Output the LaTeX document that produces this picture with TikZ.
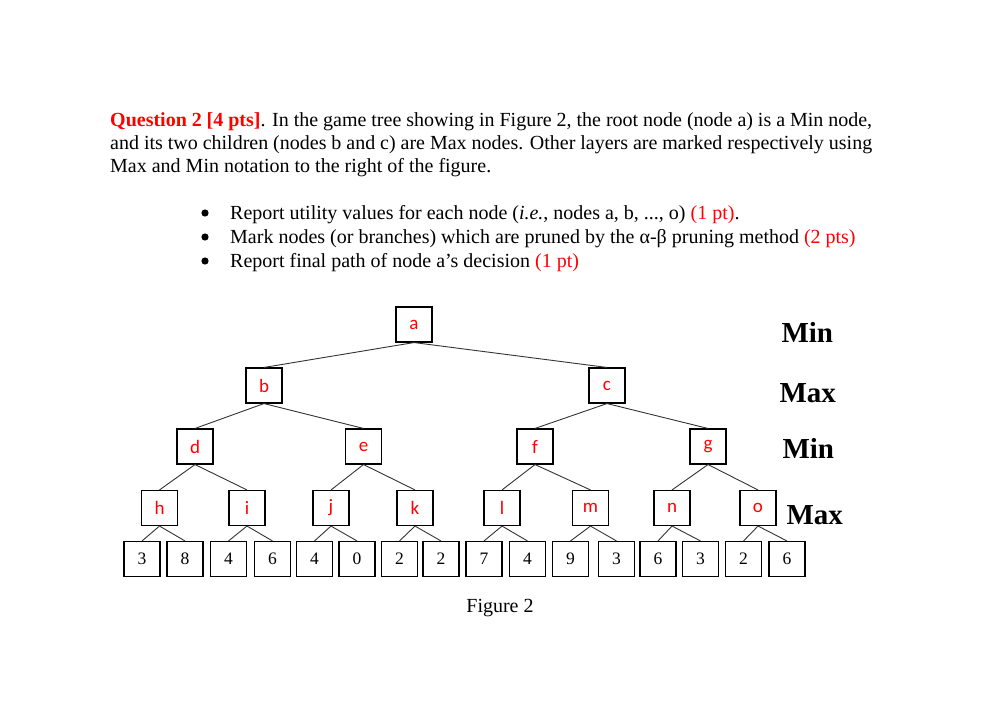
\documentclass[tikz,border=0pt]{standalone}
\usepackage{fontspec}
\setmainfont{Liberation Serif}
\newfontfamily\lblfont{Carlito}
\begin{document}
\begin{tikzpicture}[x=1pt,y=-1pt,
  box/.style={draw,line width=1.1pt,minimum width=36pt,minimum height=35pt,inner sep=0pt},
  inner/.style={box,font=\lblfont\fontsize{19}{19}\selectfont,text=red},
  leaf/.style={box,font=\fontsize{17.5}{17.5}\selectfont},
  lvl/.style={font=\bfseries\fontsize{29}{29}\selectfont,anchor=west},
  edge/.style={line width=0.9pt,black!80}]
\useasboundingbox (0,0) rectangle (1002,701);
\begin{scope}[font=\fontsize{20}{22.5}\selectfont]
\node[anchor=base west,inner sep=0pt] (t1) at (110,126) {\makebox[762pt][s]{\textcolor{red}{\textbf{Question 2 [4 pts]}}. In the game tree showing in Figure 2, the root node (node a) is a Min node,}};
\node[anchor=base west,inner sep=0pt] (t2) at (110,149) {\makebox[762pt][s]{and its two children (nodes b and c) are Max nodes. Other layers are marked respectively using}};
\node[anchor=base west,inner sep=0pt] (t3) at (110,172) {Max and Min notation to the right of the figure.};
\node[anchor=base west,inner sep=0pt] (b1) at (230,219) {Report utility values for each node (\textit{i.e.}, nodes a, b, ..., o) \textcolor{red}{(1 pt)}.};
\node[anchor=base west,inner sep=0pt] (b2) at (230,243) {Mark nodes (or branches) which are pruned by the α-β pruning method \textcolor{red}{(2 pts)}};
\node[anchor=base west,inner sep=0pt] (b3) at (230,267) {Report final path of node a’s decision \textcolor{red}{(1 pt)}};
\foreach \yy/\n in {213/d1,237/d2,261/d3} \fill (205,\yy) circle (3.6pt);
\node[anchor=base,inner sep=0pt] (fig) at (500,612) {Figure 2};
\end{scope}
\node[inner] (a) at (414,324.5) {a};
\node[inner] (b) at (264,385.5) {b};
\node[inner] (c) at (607,385.5) {c};
\node[inner] (d) at (195,446.5) {d};
\node[inner] (e) at (363.5,446.5) {e};
\node[inner] (f) at (535,446.5) {f};
\node[inner] (g) at (708,446.5) {g};
\node[inner] (h) at (159.5,508) {h};
\node[inner] (i) at (247,508) {i};
\node[inner] (j) at (331,508) {j};
\node[inner] (k) at (415,508) {k};
\node[inner] (l) at (502,508) {l};
\node[inner] (m) at (590.5,508) {m};
\node[inner] (n) at (672,508) {n};
\node[inner] (o) at (758,508) {o};
\foreach \nm/\x/\v in {L1/142/3,L2/185/8,L3/228.5/4,L4/272.5/6,L5/314.5/4,L6/357/0,L7/399.5/2,L8/441/2,L9/484/7,L10/527.5/4,L11/570.5/9,L12/616.5/3,L13/658/6,L14/700.5/3,L15/743.5/2,L16/787/6}
  \node[leaf] (\nm) at (\x,559) {\v};
\foreach \p/\q in {a/b,a/c,b/d,b/e,c/f,c/g,d/h,d/i,e/j,e/k,f/l,f/m,g/n,g/o,h/L1,h/L2,i/L3,i/L4,j/L5,j/L6,k/L7,k/L8,l/L9,l/L10,m/L11,m/L12,n/L13,n/L14,o/L15,o/L16}
  \draw[edge] (\p.south) -- (\q.north);
\node[lvl] (mn1) at (778,332) {Min};
\node[lvl] (mx1) at (776,393) {Max};
\node[lvl] (mn2) at (779,448) {Min};
\node[lvl] (mx2) at (783,515) {Max};
\end{tikzpicture}
\end{document}
